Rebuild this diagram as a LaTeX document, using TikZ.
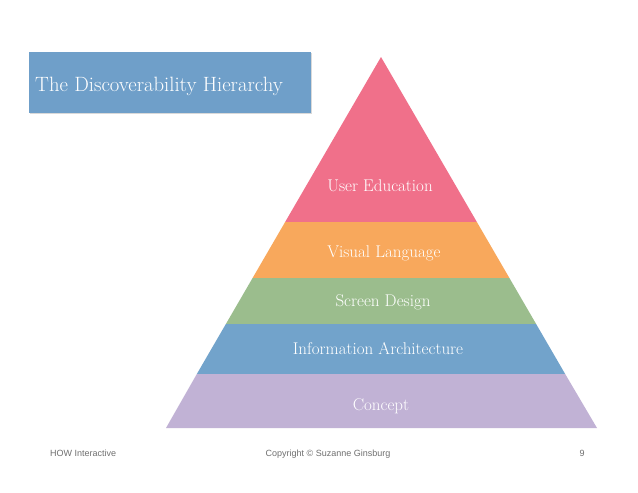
\documentclass[tikz,border=0pt]{standalone}
\usepackage{fontspec}
\newfontfamily\footfont{Liberation Sans}
\definecolor{pinkc}{HTML}{F0708A}
\definecolor{orangec}{HTML}{F8A85C}
\definecolor{greenc}{HTML}{9BBD8D}
\definecolor{bluec}{HTML}{72A3CB}
\definecolor{purplec}{HTML}{C1B2D5}
\definecolor{titlec}{HTML}{6F9FC9}
\definecolor{footc}{HTML}{707070}
\tikzset{
  band/.style={draw=none},
  blabel/.style={text=white, font=\fontsize{17}{20}\selectfont, inner sep=0pt, anchor=base},
  foot/.style={text=footc, font=\footfont\fontsize{9}{11}\selectfont, inner sep=0pt, anchor=base},
}
\begin{document}
\begin{tikzpicture}[x=1pt,y=-1pt]
\useasboundingbox (0,0) rectangle (638,493);
\fill[white] (0,0) rectangle (638,493);
\coordinate (apex) at (381,57);
\coordinate (bl) at (166,428);
\coordinate (br) at (597,428);
\fill[pinkc] (apex) -- ({381-(222-57)*0.581},222) -- ({381+(222-57)*0.581},222) -- cycle;
\fill[orangec] ({381-(222-57)*0.581},222) -- ({381+(222-57)*0.581},222) -- ({381+(278-57)*0.581},278) -- ({381-(278-57)*0.581},278) -- cycle;
\fill[greenc] ({381-(278-57)*0.581},278) -- ({381+(278-57)*0.581},278) -- ({381+(324-57)*0.581},324) -- ({381-(324-57)*0.581},324) -- cycle;
\fill[bluec] ({381-(324-57)*0.581},324) -- ({381+(324-57)*0.581},324) -- ({381+(374-57)*0.581},374) -- ({381-(374-57)*0.581},374) -- cycle;
\fill[purplec] ({381-(374-57)*0.581},374) -- ({381+(374-57)*0.581},374) -- (br) -- (bl) -- cycle;
\node[blabel] (l1) at (380,191) {User Education};
\node[blabel] (l2) at (384,257) {Visual Language};
\node[blabel] (l3) at (383,306) {Screen Design};
\node[blabel] (l4) at (378,354) {Information Architecture};
\node[blabel] (l5) at (381,410) {Concept};
% title box
\fill[black!15] (30,53) rectangle (312,114);
\fill[titlec] (29,52) rectangle (311,113);
\node[text=white, font=\fontsize{20.7}{24}\selectfont, inner sep=0pt, anchor=base west] (title) at (35,91) {The Discoverability Hierarchy};
% footer
\node[foot, anchor=base west] (f1) at (50,456) {HOW Interactive};
\node[foot] (f2) at (328,456) {Copyright © Suzanne Ginsburg};
\node[foot] (f3) at (582,456) {9};
\end{tikzpicture}
\end{document}
